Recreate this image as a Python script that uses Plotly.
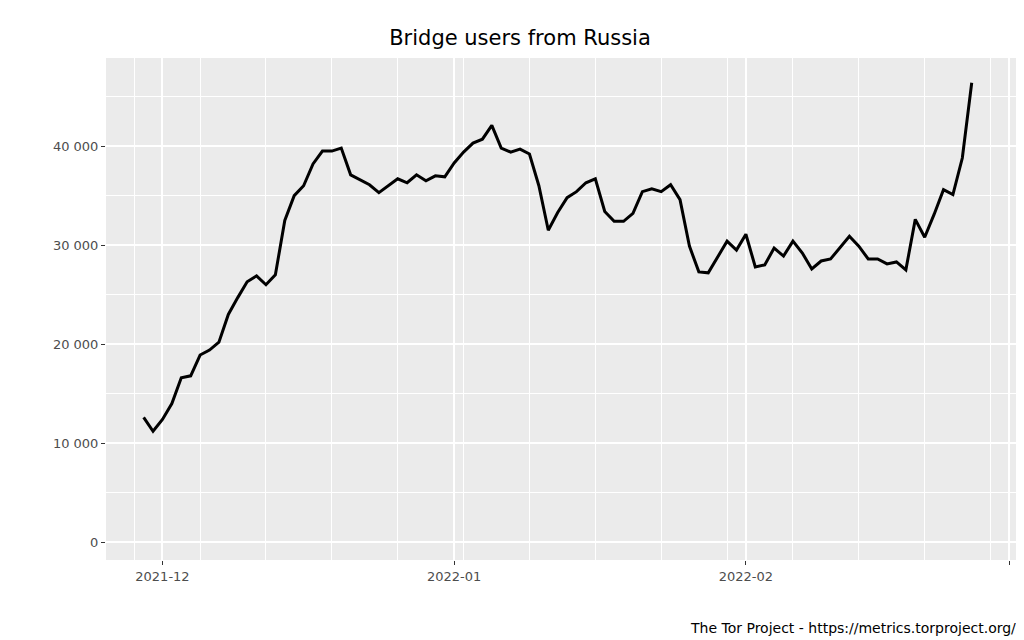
import plotly.graph_objects as go
import pandas as pd

start_date = "2021-11-29"
users = [12600,11200,12400,14000,16600,16800,18900,19400,20200,23000,24700,26300,26900,26000,27000,
32500,35000,36000,38200,39500,39500,39800,37100,36600,36100,35300,36000,36700,36300,37100,36500,
37000,36900,38300,39400,40300,40700,42100,39800,39400,39700,39200,36000,31500,33300,34800,35400,
36300,36700,33400,32400,32400,33200,35400,35700,35400,36100,34600,29900,27300,27200,28800,30400,
29500,31100,27800,28000,29700,28900,30400,29200,27600,28400,28600,29700,30900,29900,28600,28600,
28100,28300,27500,32600,30800,33100,35600,35100,38800,46400]
dates = pd.date_range(start_date, periods=len(users), freq="D")

fig = go.Figure(go.Scatter(x=dates, y=users, mode="lines", line=dict(color="black", width=3)))
fig.update_layout(
    width=1024, height=640, paper_bgcolor="white", plot_bgcolor="#EBEBEB",
    margin=dict(l=98, r=14, t=50, b=88, autoexpand=False),
    title=dict(text="Bridge users from Russia", x=0.5, y=0.965, font=dict(size=21, color="black")),
    font=dict(family="DejaVu Sans", color="#4D4D4D", size=13),
    separators=". ", showlegend=False,
    annotations=[dict(text="The Tor Project - https://metrics.torproject.org/", xref="paper", yref="paper",
                      x=1.0, y=-0.115, xanchor="right", yanchor="top", showarrow=False,
                      font=dict(size=14, color="black"))],
)
fig.update_xaxes(range=["2021-11-25", "2022-03-01 22:00"], dtick="M1", tick0="2021-12-01",
                 tickformat="%Y-%m", gridcolor="white", gridwidth=1.6, zeroline=False, automargin=False,
                 ticks="outside", tickcolor="#333", ticklen=4,
                 minor=dict(dtick=7*86400000, tick0="2021-12-05", gridcolor="white", gridwidth=0.8))
fig.update_yaxes(range=[-1800, 48900], dtick=10000, tickformat=",d", gridcolor="white", gridwidth=1.6,
                 zeroline=False, ticks="outside", tickcolor="#333", ticklen=4, automargin=False,
                 minor=dict(dtick=5000, gridcolor="white", gridwidth=0.8))
fig.write_html("out.html")
